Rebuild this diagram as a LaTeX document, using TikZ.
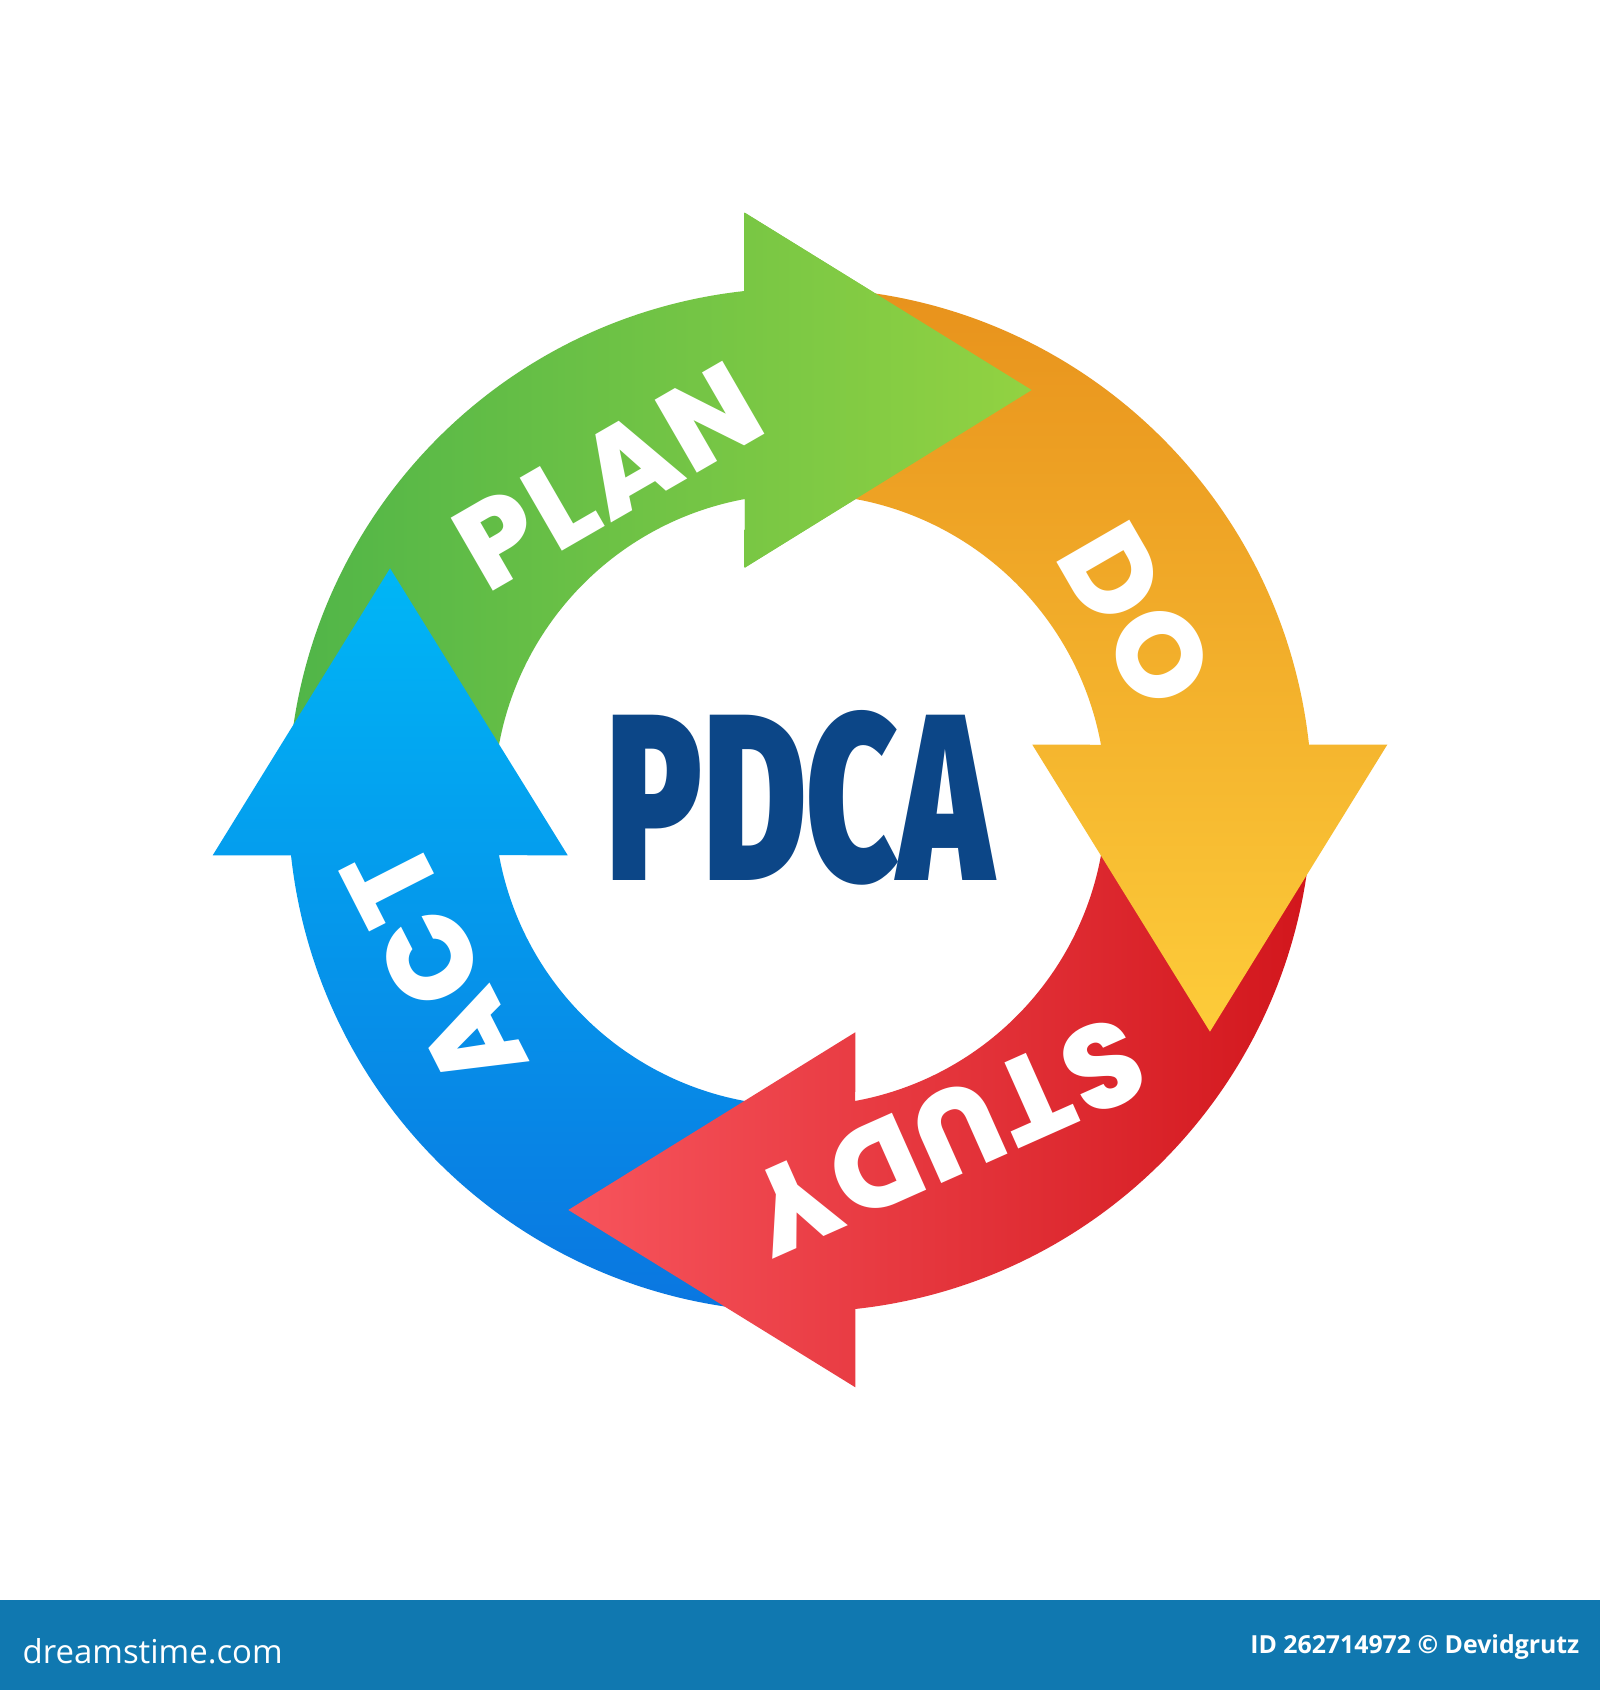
\documentclass[tikz,border=0pt]{standalone}
\usepackage{fontspec}
\usepackage{graphicx}
\setmainfont{Poppins}[BoldFont={Poppins ExtraBold}]
\newfontfamily\pdcafont{Fira Sans Black}
\newfontfamily\barfont{Open Sans}
\definecolor{gleft}{RGB}{80,181,72}
\definecolor{gright}{RGB}{146,210,66}
\definecolor{otop}{RGB}{232,146,28}
\definecolor{obottom}{RGB}{253,204,58}
\definecolor{rleft}{RGB}{247,84,92}
\definecolor{rright}{RGB}{210,22,28}
\definecolor{btop}{RGB}{0,182,246}
\definecolor{bbottom}{RGB}{10,118,224}
\definecolor{pdcablue}{RGB}{12,70,135}
\definecolor{barblue}{RGB}{16,120,176}

\begin{document}
\begin{tikzpicture}[scale=1,auto=center,
		planarrow/.style={left color=gleft,right color=gright},
		doarrow/.style={top color=otop,bottom color=obottom},
		studyarrow/.style={left color=rleft,right color=rright},
		actarrow/.style={top color=btop,bottom color=bbottom},
		word/.style={text=white,font=\fontsize{34}{34}\selectfont\bfseries\addfontfeature{LetterSpace=3}}]
			\fill[white] (-8,-8.9) rectangle (8,8);
			\foreach \a/\s in {0/planarrow,-270/actarrow,-180/studyarrow,-90/doarrow}
				\shade[\s] ({180+\a}:5.12) arc[start angle={180+\a},end angle={96.2+\a},radius=5.12] -- ({95.38+\a}:5.899) -- ({60.53+\a}:4.709) -- ({103.39+\a}:2.388) -- ({100.4+\a}:3.06) arc[start angle={100.4+\a},end angle={180+\a},radius=3.06] -- cycle;
			\begin{scope}
				\clip (-0.553,0) rectangle (6,7);
				\shade[planarrow] (180:5.12) arc[start angle=180,end angle=96.2,radius=5.12] -- (95.38:5.899) -- (60.53:4.709) -- (103.39:2.388) -- (100.4:3.06) arc[start angle=100.4,end angle=180,radius=3.06] -- cycle;
			\end{scope}
			\node[word,rotate=30] (plan) at (-1.92,3.24) {PLAN};
			\node[word,rotate=-60] (do) at (3.37,1.84) {DO};
			\node[word,rotate=-156] (study) at (1.46,-3.36) {STUDY};
			\node[word,rotate=117] (act) at (-3.66,-1.66) {ACT};
			\node[text=pdcablue] (pdca) at (0,0.02) {\resizebox{3.86cm}{1.70cm}{\pdcafont PDCA}};
			\fill[barblue] (-8,-8.9) rectangle (8,-8.0);
			\node[anchor=base west,text=white,inner sep=0pt] (site) at (-7.78,-8.63) {\resizebox{2.6cm}{!}{\barfont dreamstime.com}};
			\node[anchor=base east,text=white,inner sep=0pt] (credit) at (7.80,-8.53) {\resizebox{3.29cm}{!}{\barfont\bfseries ID 262714972 © Devidgrutz}};
		\end{tikzpicture}
\end{document}
